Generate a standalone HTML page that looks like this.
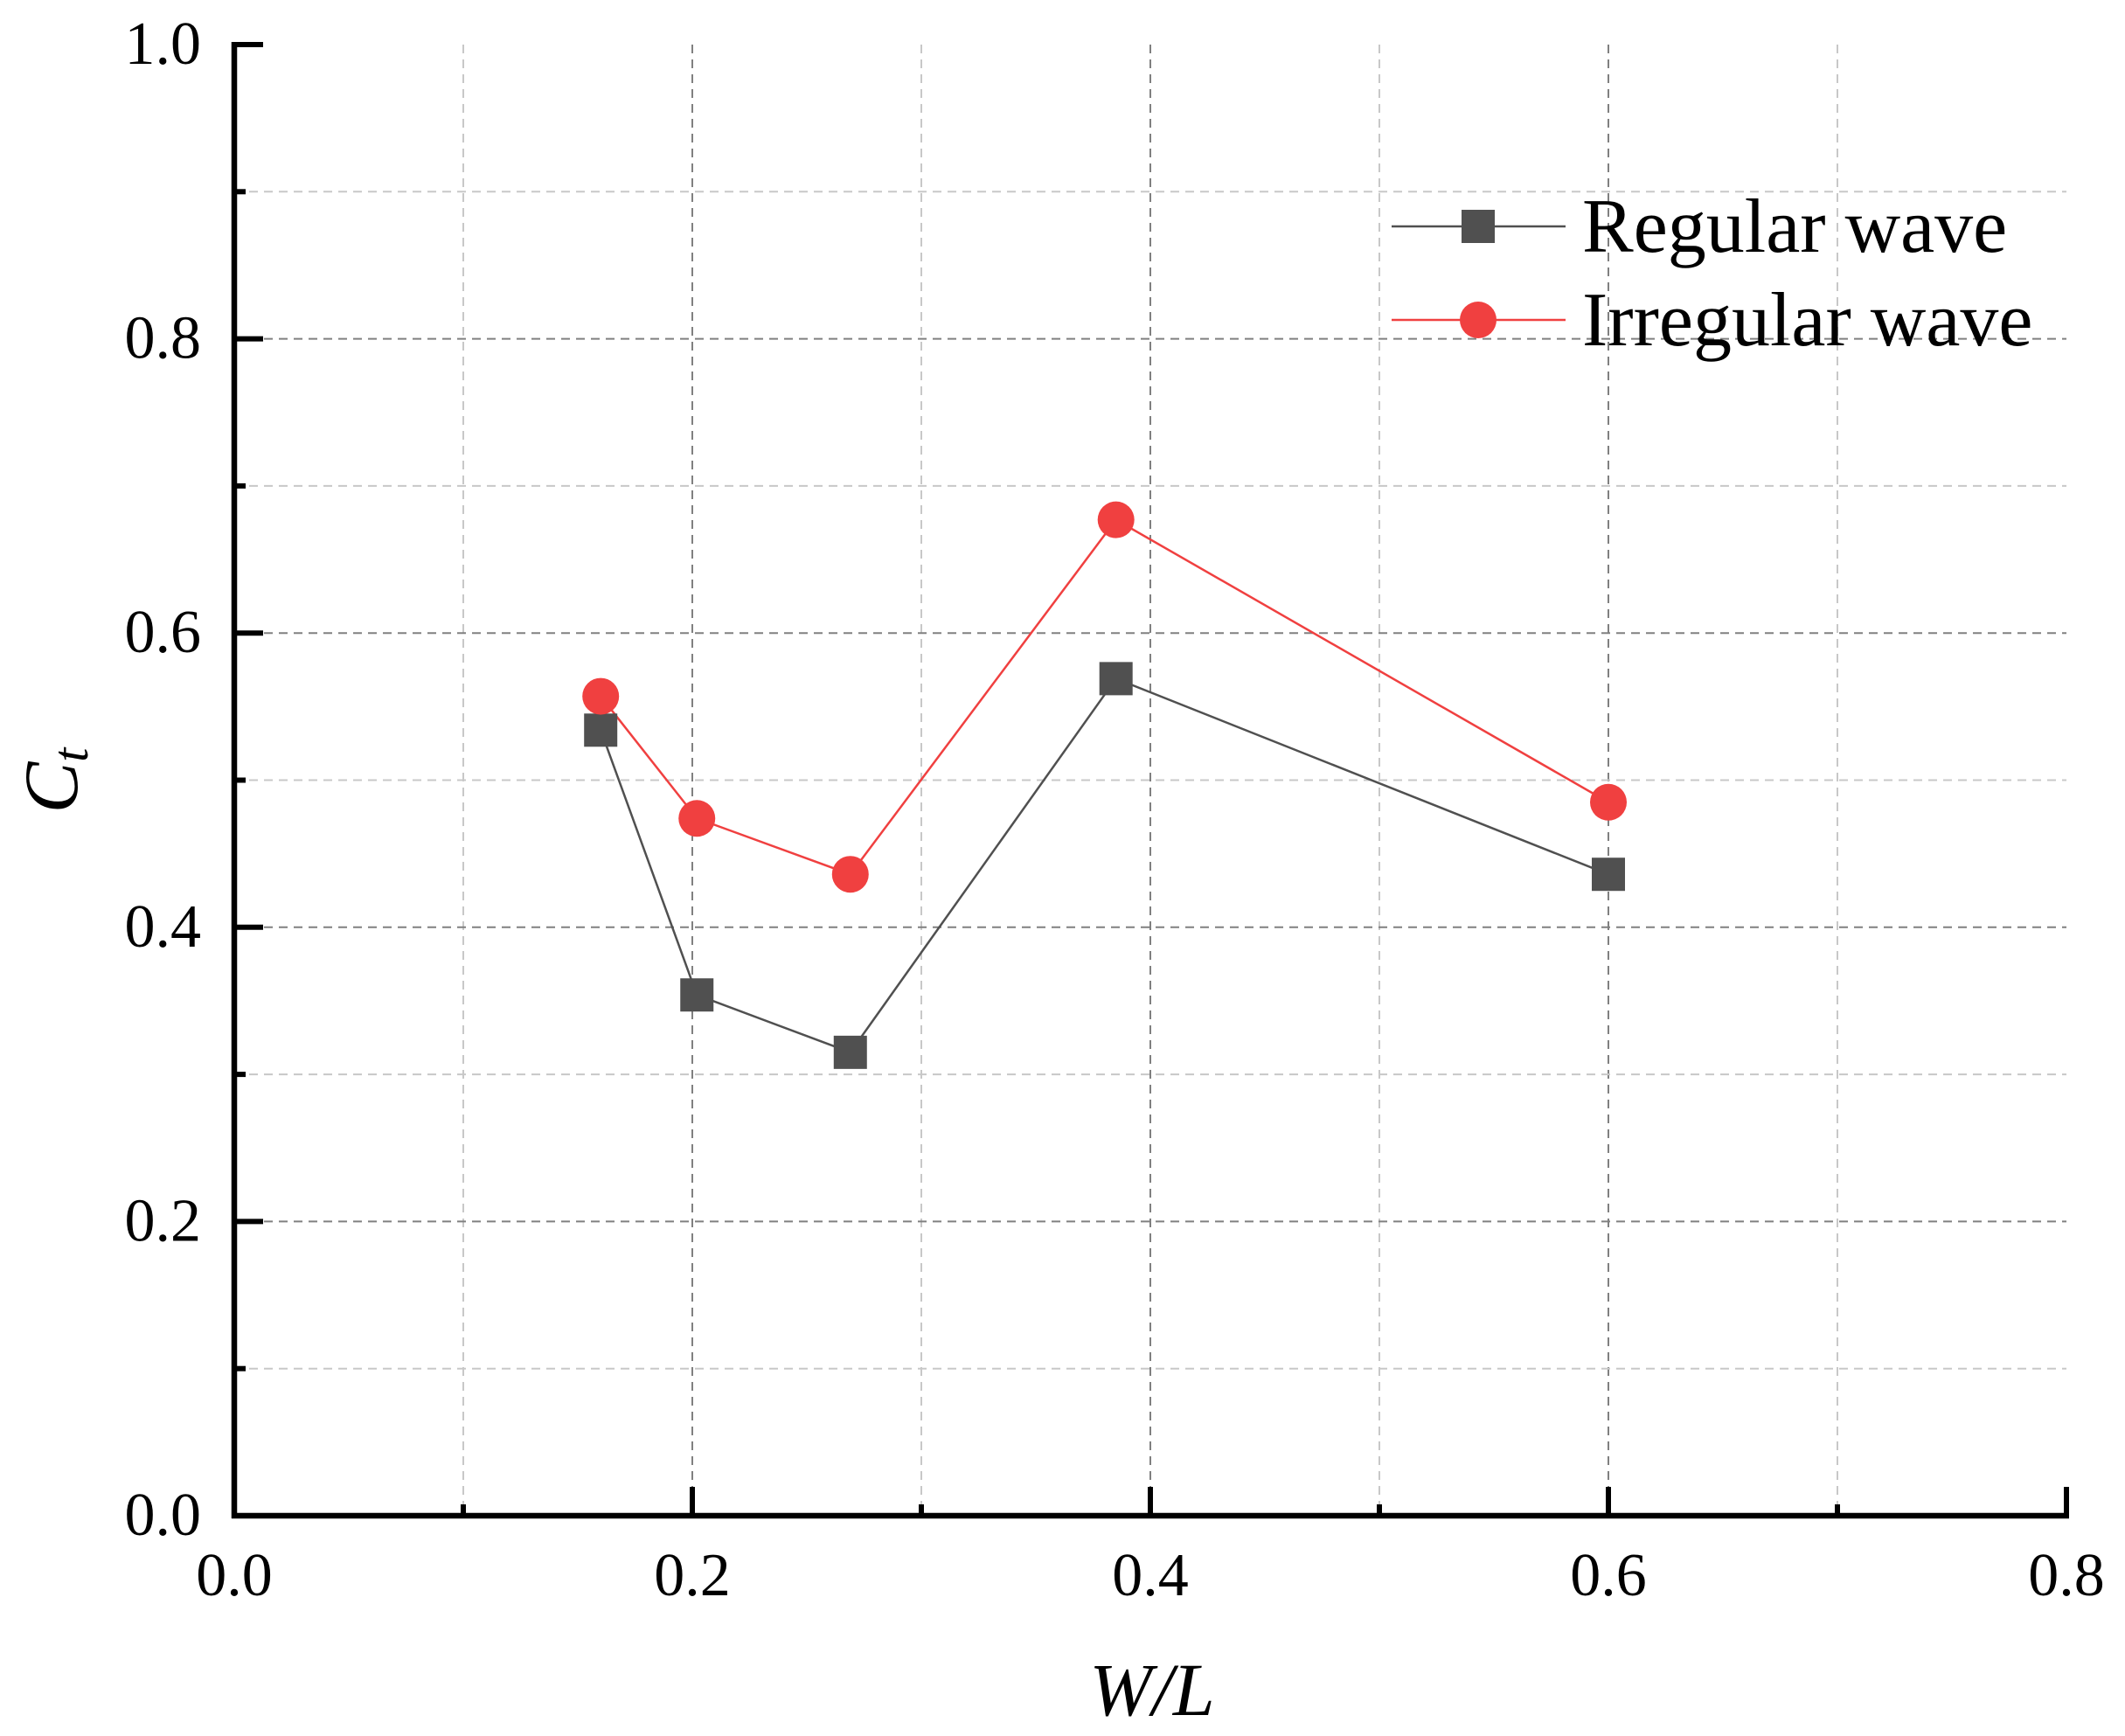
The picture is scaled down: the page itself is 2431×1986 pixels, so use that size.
<!DOCTYPE html>
<html><head><meta charset="utf-8"><style>
html,body{margin:0;padding:0;background:#fff;}
svg{display:block;}
text{font-family:"Liberation Serif","Times New Roman",serif;fill:#000;}
</style></head><body>
<svg id="chart" width="2431" height="1986" viewBox="0 0 2431 1986" xmlns="http://www.w3.org/2000/svg">
<g id="grid"></g>
<g id="axes"></g>
<g id="series"></g>
<g id="legend">
  <line x1="1592" y1="259" x2="1791" y2="259" stroke="#505050" stroke-width="2.5"/>
  <rect x="1672" y="240" width="38" height="38" fill="#505050"/>
  <text x="1810" y="288" font-size="88">Regular wave</text>
  <line x1="1592" y1="366" x2="1791" y2="366" stroke="#f04040" stroke-width="2.5"/>
  <circle cx="1691" cy="366" r="21" fill="#f04040"/>
  <text x="1810" y="395" font-size="88">Irregular wave</text>
</g>
<text x="1318" y="1962" font-size="86" font-style="italic" text-anchor="middle">W/L</text>
<text transform="translate(88,893) rotate(-90)" font-size="88" font-style="italic" text-anchor="middle">C<tspan font-size="58" dy="12">t</tspan></text>
</svg>
<script>
const xValues = [0.160, 0.202, 0.269, 0.385, 0.600];
const regularValues = [0.534, 0.354, 0.315, 0.569, 0.436];
const irregularValues = [0.557, 0.474, 0.436, 0.677, 0.485];
const xTickLabels = ["0.0", "0.2", "0.4", "0.6", "0.8"];
const yTickLabels = ["0.0", "0.2", "0.4", "0.6", "0.8", "1.0"];

const X0 = 268, X1 = 2364, Y0 = 1734, Y1 = 51;
const sx = v => X0 + (v / 0.8) * (X1 - X0);
const sy = v => Y0 - v * (Y0 - Y1);
const NS = "http://www.w3.org/2000/svg";
function mk(tag, parent, attrs) {
  const e = document.createElementNS(NS, tag);
  for (const k in attrs) e.setAttribute(k, attrs[k]);
  parent.appendChild(e);
  return e;
}
const grid = document.getElementById("grid");
const axes = document.getElementById("axes");
const series = document.getElementById("series");

for (let i = 1; i <= 7; i++) {
  const v = i / 10, major = i % 2 === 0;
  const l = mk("line", grid, {x1: sx(v), x2: sx(v), y1: Y1, y2: Y0, stroke: major ? "#808080" : "#c8c8c8", "stroke-width": 2, "stroke-dasharray": "10 7"});
  
  
}
for (let i = 1; i <= 9; i++) {
  const v = i / 10, major = i % 2 === 0;
  const l = mk("line", grid, {x1: X0, x2: X1, y1: sy(v), y2: sy(v), stroke: major ? "#808080" : "#c8c8c8", "stroke-width": 2, "stroke-dasharray": "10 7"});
  
  
}
const xa = mk("line", axes, {x1: X0 - 3, x2: X1 + 3, y1: Y0, y2: Y0, stroke: "#000", "stroke-width": 6.5});


const ya = mk("line", axes, {x1: X0, x2: X0, y1: Y1 - 3, y2: Y0 + 3, stroke: "#000", "stroke-width": 6.5});


for (let i = 0; i <= 8; i++) {
  const v = i / 10, len = i % 2 === 0 ? 33 : 13;
  const t = mk("line", axes, {x1: sx(v), x2: sx(v), y1: Y0, y2: Y0 - len, stroke: "#000", "stroke-width": 6});
  
  
}
for (let i = 0; i <= 10; i++) {
  const v = i / 10, len = i % 2 === 0 ? 33 : 13;
  const t = mk("line", axes, {x1: X0, x2: X0 + len, y1: sy(v), y2: sy(v), stroke: "#000", "stroke-width": 6});
  
  
}
xTickLabels.forEach((s, i) => {
  const t = mk("text", axes, {x: sx(i * 0.2), y: 1825, "font-size": 70, "text-anchor": "middle"});
  t.textContent = s;
  
  
});
yTickLabels.forEach((s, i) => {
  const t = mk("text", axes, {x: 230, y: sy(i * 0.2) + 22, "font-size": 70, "text-anchor": "end"});
  t.textContent = s;
  
  
});
function pts(vals) { return xValues.map((x, i) => sx(x) + "," + sy(vals[i])).join(" "); }
const lr = mk("polyline", series, {points: pts(regularValues), fill: "none", stroke: "#505050", "stroke-width": 2.5});


const li = mk("polyline", series, {points: pts(irregularValues), fill: "none", stroke: "#f04040", "stroke-width": 2.5});


xValues.forEach((x, i) => {
  const r = mk("rect", series, {x: sx(x) - 19, y: sy(regularValues[i]) - 19, width: 38, height: 38, fill: "#505050"});
  
  
});
xValues.forEach((x, i) => {
  const c = mk("circle", series, {cx: sx(x), cy: sy(irregularValues[i]), r: 21, fill: "#f04040"});
  
  
});
</script>
</body></html>
